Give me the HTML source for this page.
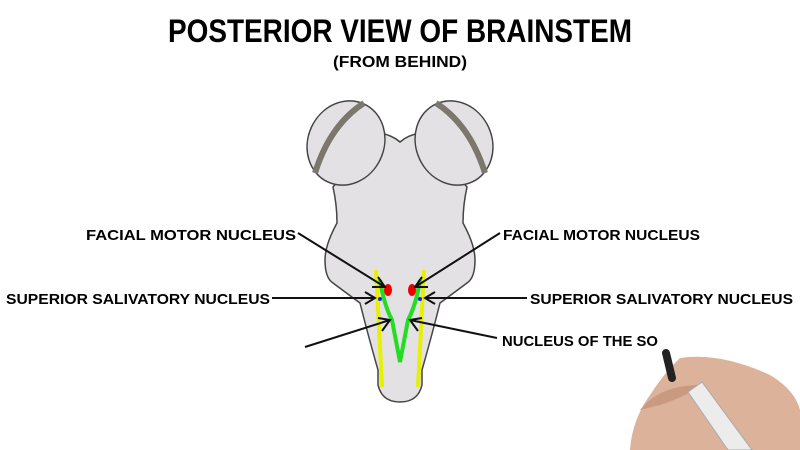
<!DOCTYPE html>
<html><head><meta charset="utf-8"><style>html,body{margin:0;padding:0;background:#fff;width:800px;height:450px;overflow:hidden}</style></head>
<body>
<svg width="800" height="450" viewBox="0 0 800 450" xmlns="http://www.w3.org/2000/svg" font-family="Liberation Sans, sans-serif" font-weight="bold">
<text x="168" y="42" font-size="32" textLength="464" lengthAdjust="spacingAndGlyphs">POSTERIOR VIEW OF BRAINSTEM</text>
<text x="333" y="67" font-size="16" textLength="134" lengthAdjust="spacingAndGlyphs">(FROM BEHIND)</text>
<!-- body -->
<path d="M380,133 Q392,135 400,142 Q408,135 420,133 L467,187 Q463,205 463,223 Q475,245 475,260 Q475,278 467,283 Q455,292 440,303 Q432,335 422,370 L422,385 Q418,402 400,402 Q382,402 378,385 L378,370 Q368,335 360,303 Q345,292 333,283 Q325,278 325,260 Q325,245 337,223 Q337,205 333,187 Z" fill="#e3e1e3" stroke="#444" stroke-width="1.5"/>
<g fill="#e3e1e3" stroke="#444" stroke-width="1.5">
<ellipse cx="346" cy="143" rx="38" ry="43" transform="rotate(25 346 143)"/>
<ellipse cx="454" cy="143" rx="38" ry="43" transform="rotate(-25 454 143)"/>
</g>
<path d="M315,173 Q330,125 364,103" stroke="#7d766d" stroke-width="6" fill="none"/>
<path d="M485,173 Q470,125 436,103" stroke="#7d766d" stroke-width="6" fill="none"/>
<path d="M376,270 L382,387" stroke="#e6f000" stroke-width="4" fill="none"/>
<path d="M424,270 L418,387" stroke="#e6f000" stroke-width="4" fill="none"/>
<path d="M380,280 Q384,305 392,320 L400,362 L408,320 Q416,305 420,280" stroke="#22dd22" stroke-width="4" fill="none"/>
<ellipse cx="388" cy="290" rx="4" ry="6" fill="#e00"/>
<ellipse cx="412" cy="290" rx="4" ry="6" fill="#e00"/>
<circle cx="380" cy="299" r="2" fill="#22d"/>
<circle cx="420" cy="299" r="2" fill="#22d"/>
<g stroke="#111" stroke-width="2" fill="none">
<path d="M298,233 L385,287 M378,277 L385,287 L372,287"/>
<path d="M272,298 L375,298 M365,292 L375,298 L365,304"/>
<path d="M305,347 L390,320 M378,318 L390,320 L382,331"/>
<path d="M500,233 L415,287 M422,277 L415,287 L428,287"/>
<path d="M527,298 L425,298 M435,292 L425,298 L435,304"/>
<path d="M497,338 L410,320 M422,318 L410,320 L418,331"/>
</g>
<g font-size="15">
<text x="86" y="240" textLength="210" lengthAdjust="spacingAndGlyphs">FACIAL MOTOR NUCLEUS</text>
<text x="6" y="304" textLength="264" lengthAdjust="spacingAndGlyphs">SUPERIOR SALIVATORY NUCLEUS</text>
<text x="503" y="240" textLength="197" lengthAdjust="spacingAndGlyphs">FACIAL MOTOR NUCLEUS</text>
<text x="530" y="304" textLength="263" lengthAdjust="spacingAndGlyphs">SUPERIOR SALIVATORY NUCLEUS</text>
<text x="502" y="346" textLength="156" lengthAdjust="spacingAndGlyphs">NUCLEUS OF THE SO</text>
</g>
<!-- hand -->
<path d="M680,358 Q720,352 770,375 Q795,390 800,410 L800,450 L630,450 Q632,420 650,395 Q665,372 680,358 Z" fill="#dcb29a"/>
<path d="M640,410 Q660,385 700,385 Q690,395 660,405 Z" fill="#c99a80"/>
<path d="M688,392 L728,450 L752,450 L702,382 Z" fill="#ececec" stroke="#aaa"/>
<path d="M666,353 L672,378" stroke="#222" stroke-width="8" stroke-linecap="round"/>
</svg>
</body></html>
